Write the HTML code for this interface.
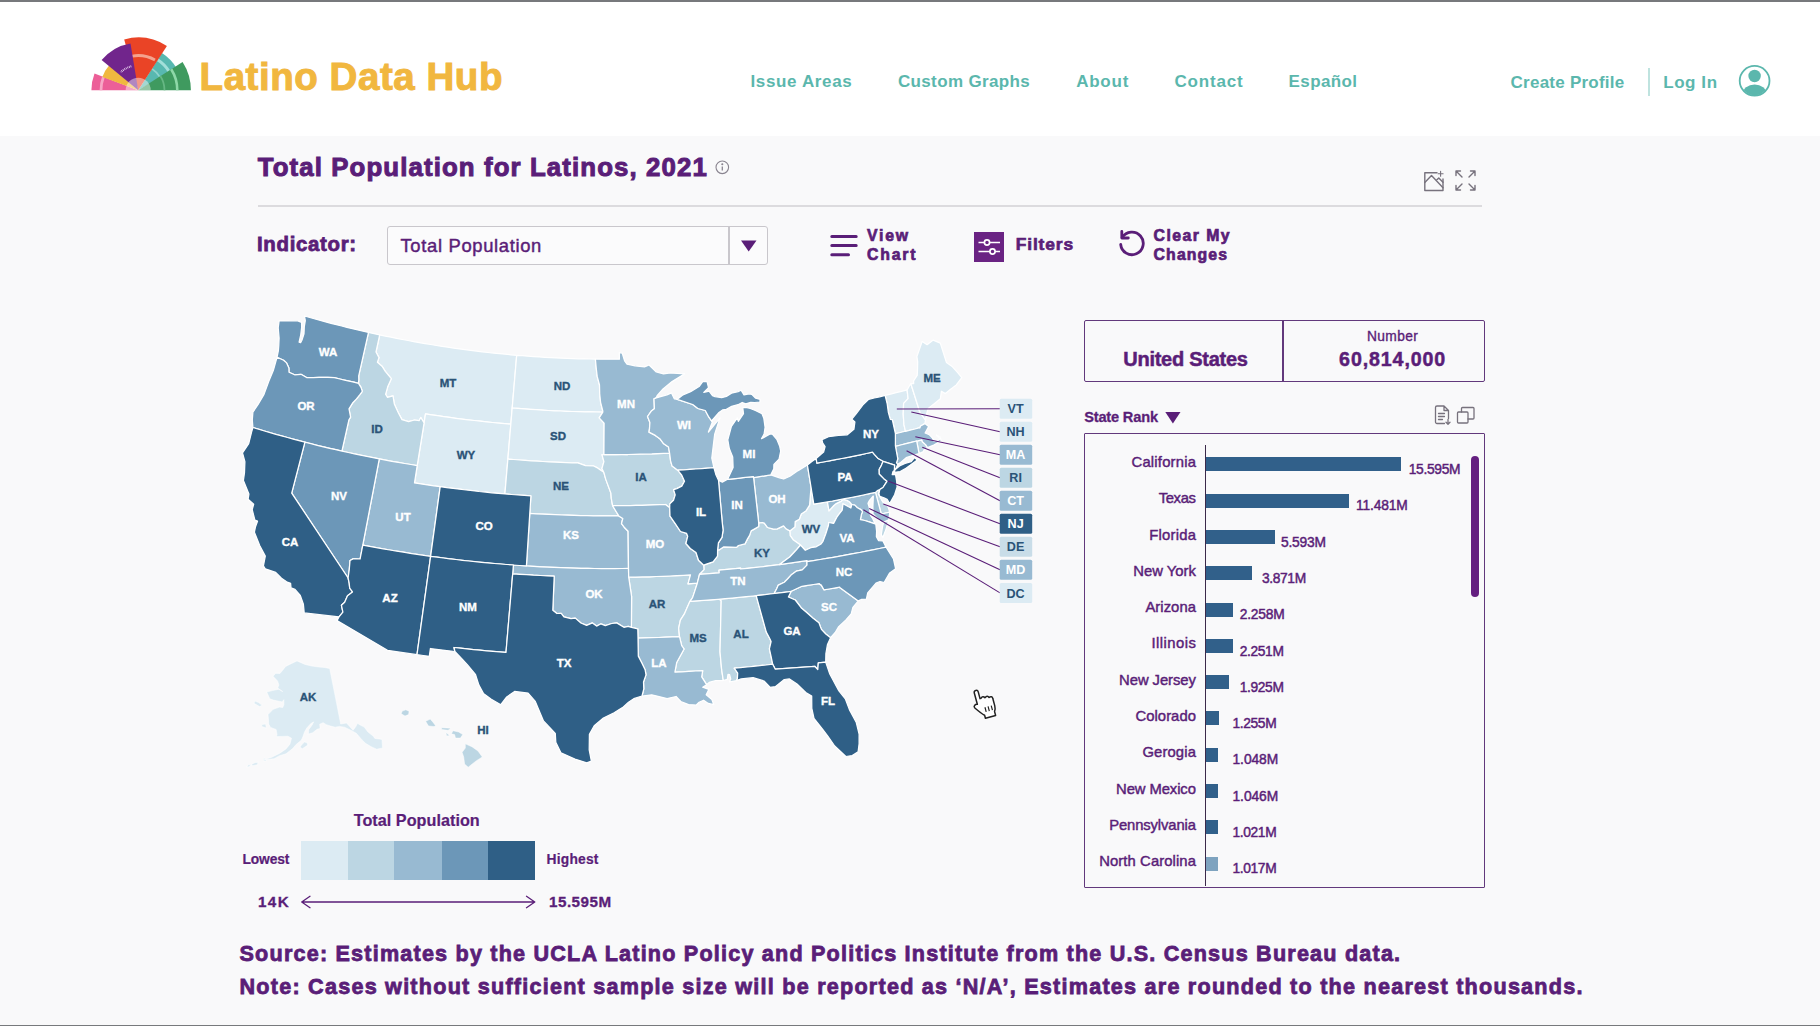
<!DOCTYPE html>
<html lang="en"><head><meta charset="utf-8"><title>Latino Data Hub</title>
<style>
*{margin:0;padding:0;box-sizing:border-box}
html,body{width:1820px;height:1026px;overflow:hidden}
body{position:relative;background:#f9f9fa;font-family:"Liberation Sans",sans-serif;color:#5a1e78}
.abs{position:absolute;display:block}
.t{position:absolute;white-space:nowrap;line-height:1;font-weight:700}
#hdr{left:0;top:0;width:1820px;height:135.5px;background:#fff}
.edge{left:0;width:1820px;height:1.5px;background:#77797c}
</style></head>
<body>
<div class="abs" id="hdr"></div>
<svg class="abs" style="left:80px;top:30px" width="125" height="65" viewBox="80 30 125 65">
<path fill="#ec5f98" d="M138.2 90.2L94.5 73.6A46.8 46.8 0 0 0 91.4 90.2Z"/>
<path fill="#f7a8c6" d="M104.7 77.5L102.1 76.5A38.6 38.6 0 0 0 99.6 90.2L102.4 90.2A35.8 35.8 0 0 1 104.7 77.5Z"/>
<path fill="#f0b840" d="M138.2 90.2L109.4 65.1A38.2 38.2 0 0 0 102.4 76.9Z"/>
<path fill="#58b8b0" d="M138.2 90.2L176.5 68.1A44.2 44.2 0 0 0 161.9 52.9Z"/>
<path fill="#a3dfd9" d="M167.9 72.4L170.4 70.8A37.6 37.6 0 0 0 158.4 58.5L156.8 61A34.6 34.6 0 0 1 167.9 72.4Z"/>
<path fill="#8fd3cd" d="M159.2 77.6L160.7 76.7A26.3 26.3 0 0 0 152.3 68L151.4 69.5A24.5 24.5 0 0 1 159.2 77.6Z"/>
<path fill="#3f9a5f" d="M138.2 90.2L190.9 90.2A52.7 52.7 0 0 0 182.6 61.9Z"/>
<path fill="#8ed8a8" d="M176 90.2L178.6 90.2A40.4 40.4 0 0 0 172.3 68.5L170.1 69.9A37.8 37.8 0 0 1 176 90.2Z"/>
<path fill="#66b784" d="M163.6 90.2L165.4 90.2A27.2 27.2 0 0 0 161.1 75.6L159.6 76.6A25.4 25.4 0 0 1 163.6 90.2Z"/>
<path fill="#ea4426" d="M138.2 90.2L166.9 46A52.7 52.7 0 0 0 124.2 39.4Z"/>
<path fill="#f4a38e" d="M154.3 61.2L155.7 58.7A36 36 0 0 0 131.9 54.7L132.4 57.5A33.2 33.2 0 0 1 154.3 61.2Z"/>
<path fill="#71258c" d="M138.2 90.2L130.5 43.4A47.4 47.4 0 0 0 101.6 60.1Z"/>
<path fill="none" stroke="#e9d3f0" stroke-width="2" stroke-dasharray="0.8 0.9" d="M131.3 66.2A25 25 0 0 0 120.8 72.2"/>
<path fill="#fff" fill-opacity=".45" d="M138.2 90.2L150.7 90.2A12.5 12.5 0 0 0 125.7 90.2Z"/>
</svg>
<div class="abs" style="left:1648px;top:68px;width:1.5px;height:28px;background:#bfe3df"></div>
<svg class="abs" style="left:1737px;top:63px" width="36" height="36"><defs><clipPath id="av"><circle cx="17.6" cy="17.8" r="14.3"/></clipPath></defs><circle cx="17.6" cy="17.8" r="14.9" fill="#fff" stroke="#5bb7ad" stroke-width="1.8"/><g fill="#5bb7ad" clip-path="url(#av)"><circle cx="17.6" cy="13" r="6.2"/><ellipse cx="17.6" cy="31.3" rx="12" ry="9.8"/></g></svg>
<svg class="abs" style="left:714px;top:159px" width="17" height="17" fill="none" stroke="#8a8590" stroke-width="1.1"><circle cx="8.3" cy="8.3" r="6.3"/><path d="M8.3 7.5v4" stroke-width="1.3"/><circle cx="8.3" cy="5.3" r=".5" fill="#8a8590"/></svg>
<svg class="abs" style="left:1422px;top:167px" width="58" height="27" fill="none" stroke="#77727d" stroke-width="1.4" stroke-linejoin="round" stroke-linecap="round"><path d="M15 5.8H2.8V23.5H21V12"/><path d="M2.8 15.5l6.7-7 4.7 5 2.6-2.6 4.2 4.4M13.5 12.8l7.5 8"/><path d="M18.6 4.2v5M16.1 6.7h5" stroke-width="1.1"/><path d="M40 10l-6-6M34 8.5V4h4.5M47 10l6-6M48.5 4H53v4.5M40 17l-6 6M34 18.5V23h4.5M47 17l6 6M53 18.5V23h-4.5" stroke-width="1.4"/></svg>
<div class="abs" style="left:258px;top:205px;width:1224px;height:1.5px;background:#dcdbde"></div>
<div class="abs" style="left:386.5px;top:226px;width:381.5px;height:38.5px;border:1.3px solid #c9c7cc;border-radius:3px;background:#fbfbfc"></div>
<div class="abs" style="left:728.3px;top:226px;width:1.3px;height:38.5px;background:#c9c7cc"></div>
<svg class="abs" style="left:740px;top:239px" width="18" height="14"><path fill="#5a1e78" d="M1 1.4H16.5L8.7 12.4Z"/></svg>
<svg class="abs" style="left:829px;top:233px" width="30" height="24" stroke="#5a1e78" stroke-width="3" stroke-linecap="round"><path d="M2.8 3.5H27.2M2.8 12.6H27.2M2.8 21.7H19.5"/></svg>
<svg class="abs" style="left:973.8px;top:231.5px" width="30.4" height="30.4"><rect width="30.4" height="30.4" fill="#6a2383"/><g stroke="#fff" stroke-width="1.7" fill="#6a2383"><path d="M4.5 10.5H26M4.5 19.5H26"/><circle cx="13" cy="10.5" r="2.6"/><circle cx="18.5" cy="19.5" r="2.6"/></g></svg>
<svg class="abs" style="left:1116px;top:228px" width="32" height="32" fill="none" stroke="#5a1e78" stroke-width="2.8" stroke-linecap="round" stroke-linejoin="round"><path d="M6.3 9.5A11.3 11.3 0 1 1 4.7 16.5"/><path d="M5.8 3.5v6.5h6.5"/></svg>
<svg class="abs" style="left:0;top:290px" width="1070" height="500" viewBox="0 290 1070 500">
<g stroke="#fff" stroke-width="1.25" stroke-linejoin="round">
<path fill="#dcebf3" d="M379.7,334.9L385.3,336.1L391,337.2L396.6,338.4L402.3,339.5L408,340.5L413.7,341.6L419.3,342.6L425,343.6L430.7,344.5L436.4,345.5L442.1,346.4L447.8,347.2L453.6,348.1L459.3,348.9L465,349.6L470.7,350.4L476.5,351.1L482.2,351.8L487.9,352.5L493.7,353.1L499.4,353.7L505.2,354.2L510.9,354.8L516.7,355.3L510.8,424.2L504.7,423.7L498.6,423.1L492.5,422.5L486.4,421.9L480.3,421.2L474.2,420.5L468.1,419.8L462,419.1L455.9,418.3L449.8,417.4L443.7,416.6L437.6,415.7L431.6,414.8L425.5,413.8L424.1,422.8L420.8,417.5L419.1,420.7L414.5,420L408.6,421.6L402,419.6L398.3,412.7L394.3,404L393,395.8L387.4,397.3L385.6,394.3L387.7,386.8L391.3,378.7L385.3,371.3L382,366.2L377.4,362.2L379,357.6L376,352L379.7,334.9Z"/>
<path fill="#dcebf3" d="M425.5,413.8L431.6,414.8L437.6,415.7L443.7,416.6L449.8,417.4L455.9,418.3L462,419.1L468.1,419.8L474.2,420.5L480.3,421.2L486.4,421.9L492.5,422.5L498.6,423.1L504.7,423.7L510.8,424.2L504.9,493.9L498.4,493.4L491.9,492.8L485.5,492.1L479,491.5L472.5,490.7L466.1,490L459.6,489.2L453.1,488.4L446.7,487.6L440.2,486.7L433.8,485.8L427.3,484.9L420.9,483.9L414.5,482.9Z"/>
<path fill="#dcebf3" d="M516.7,355.3L522.3,355.7L527.9,356.2L533.5,356.6L539.1,356.9L544.7,357.3L550.4,357.6L556,357.9L561.6,358.2L567.2,358.4L572.9,358.6L578.5,358.8L584.1,358.9L589.7,359L595.4,359.1L596.2,367.7L597.2,376.4L599.5,385L599.7,393.7L600.6,402.3L602.8,411L602.8,412.1L596.7,412L590.7,411.9L584.6,411.8L578.6,411.7L572.6,411.5L566.5,411.3L560.5,411L554.4,410.8L548.4,410.5L542.4,410.1L536.3,409.7L530.3,409.3L524.3,408.9L518.2,408.4L512.2,408Z"/>
<path fill="#dcebf3" d="M512.2,408L518.2,408.4L524.3,408.9L530.3,409.3L536.3,409.7L542.4,410.1L548.4,410.5L554.4,410.8L560.5,411L566.5,411.3L572.6,411.5L578.6,411.7L584.6,411.8L590.7,411.9L596.7,412L602.8,412.1L599.2,417.9L604.1,423.2L603.9,454.6L602,454.6L603.9,461.6L601.9,468.6L603.8,472.2L600.7,470.3L596.9,467.6L593.1,465.8L585.5,465.7L577.9,462.9L572.1,462.8L566.3,462.6L560.4,462.3L554.6,462.1L548.7,461.8L542.9,461.5L537,461.1L531.2,460.8L525.4,460.4L519.5,460L513.7,459.5L507.9,459Z"/>
<path fill="#dcebf3" d="M811.2,488.2L813.8,504.1L818.3,503.4L822.9,502.6L827.4,501.8L829,510.8L833.9,505.5L836.2,503.6L841.2,501.1L843.5,499.3L847.1,500.4L849.4,501.7L851.7,504.5L850.9,508L843,503.8L842.2,510.2L838.1,515.4L836.7,517.5L833.6,523.4L828.7,522.5L828.5,525.2L825.8,533.7L823,541.3L820.7,544.3L816.2,546.8L810.8,547.7L805.3,550.3L800.5,545L793.1,539.7L790.2,535.6L789.8,530.9L794.9,527L795.2,521.6L799.3,519.2L801.3,514.1L805.8,511.1L809.6,505.2L810.1,498.9L810.6,492.6Z"/>
<path fill="#dcebf3" d="M885.1,395.4L890.6,394.1L896.1,392.7L901.6,391.3L907.1,389.9L908.1,398.6L903.6,403.4L903.2,414.3L904,424.9L905.5,431.4L900.5,432.6L895.5,433.9L895.4,433.5L892.3,419.7L890.3,419.3L888.4,412.6L887.2,403.9L885.1,395.4Z"/>
<path fill="#dcebf3" d="M907.1,389.9L910.8,383.5L915,396.8L919.9,412.3L925.5,419.8L924.9,423.6L920.6,426L919.8,428L919.7,427.7L915,429L910.2,430.2L905.5,431.4L904,424.9L903.2,414.3L903.6,403.4L908.1,398.6L907.1,389.9Z"/>
<path fill="#dcebf3" d="M910.8,383.5L913.7,383.6L913.6,380.9L917.2,375.4L917.5,369.9L917.7,361.8L916.9,356.6L922.2,341.4L927.1,344.7L933.2,340.1L940.3,343.1L946.4,362.4L951.8,366.2L957.7,372.6L961.8,377.7L956.3,384.9L950.6,389.3L945.4,393.6L941.4,391.2L940.4,398.7L933.6,404.3L928.2,408.5L926.2,415.4L925.5,419.8L919.9,412.3L915,396.8L910.8,383.5Z"/>
<path fill="#dcebf3" stroke-width="0.5" d="M862.5,511.6L860.9,509.6L861.7,508.2L863.7,509.6Z"/>
<path fill="#dcebf3" stroke-width="0.5" d="M382.6,747.9L376.8,749.3L371.1,746.7L365.5,743.3L362,739.9L358.5,735.8L356.2,733.2L350.8,730.2L344.5,727.2L339.6,726.4L335.1,727.2L330.4,726L326.3,724.7L323.1,722.7L319.7,724.2L320.1,728.5L317.1,729.3L312.7,732.7L308.4,734.1L308.6,729.8L312.3,724.7L313.6,721.9L310.8,723.6L306.8,728L304.4,732.3L303.2,736L301.3,740.3L296.1,744.5L292.7,748.6L286,753.8L279.6,755.7L274.1,758.7L264,759.8L267,758.7L271.8,757.2L279.9,753.2L286,748.9L289.9,744.2L291.5,738.2L287.9,736.2L283.1,736.4L276.4,736.6L277,734.5L276.1,729.5L270.5,727.4L268.7,724L268.5,719.7L268,714.6L273.1,709.3L279.5,707.1L282.7,707.5L283.9,704.6L283.8,699.7L282.3,701.9L273.3,700.1L269.8,698.8L266.7,692L272.3,690.6L278.8,689.2L282.7,691.6L277.7,688.1L278.9,685L277.6,681.1L273.1,676.3L275.5,673.4L280,673.5L285.7,666.4L290.7,663.9L297,660.9L305,664.4L311.3,665.9L318.7,667L324.1,667.4L329.7,668.5L335.2,696.1L340.7,724L346.5,723L353.1,730.2L355.5,727.1L357.6,723.3L359.6,724.7L364.3,727.1L367.7,731.7L373.4,736.3L374.8,738.4L381.2,739.3L382,740.3ZM307.1,742.7L307.8,745.1L302.3,748.8L300,747L302.3,744L304.5,742.1ZM265,758.1L266.7,760.8L263.8,761L263.4,759ZM258.1,762.4L257.3,764.8L252.7,765.7L251.5,764.2L255.5,762.5ZM251.4,764.8L248.7,766.7L246.8,766.9L248.4,764.8ZM254.9,701L258.6,702.6L262.2,705.3L259.6,706.6L254,703.3ZM265.6,724.1L266.4,728L261.8,726.5L261.8,724.6Z"/>
<path fill="#bcd6e3" d="M368.5,332.4L374.1,333.7L379.7,334.9L376,352L379,357.6L377.4,362.2L382,366.2L385.3,371.3L391.3,378.7L387.7,386.8L385.6,394.3L387.4,397.3L393,395.8L394.3,404L398.3,412.7L402,419.6L408.6,421.6L414.5,420L419.1,420.7L420.8,417.5L424.1,422.8L417.2,465.6L410.9,464.6L404.6,463.5L398.3,462.4L392,461.3L385.7,460.1L379.5,458.9L373.2,457.7L366.9,456.5L360.7,455.2L354.4,453.8L348.1,452.5L341.9,451.1L348.9,419.9L350.6,417.2L349.7,412.5L349,408.8L352.4,403.3L356.5,398.9L360.1,394.3L362.3,391.3L361,387.4L358.5,383.3L358.8,379.8L358.7,375.9L368.5,332.4Z"/>
<path fill="#bcd6e3" d="M507.9,459L513.7,459.5L519.5,460L525.4,460.4L531.2,460.8L537,461.1L542.9,461.5L548.7,461.8L554.6,462.1L560.4,462.3L566.3,462.6L572.1,462.8L577.9,462.9L585.5,465.7L593.1,465.8L596.9,467.6L600.7,470.3L603.8,472.2L605.7,479.1L608.3,486.1L610.9,493.1L611.3,498.4L612.6,505.7L616.1,511.5L618.8,515.9L612.4,515.9L606.1,515.9L599.7,515.9L593.3,515.8L587,515.7L580.6,515.6L574.3,515.4L567.9,515.2L561.5,515L555.2,514.7L548.8,514.4L542.5,514.1L536.1,513.8L529.8,513.4L530.9,495.9L524.4,495.4L517.9,495L511.4,494.5L504.9,493.9Z"/>
<path fill="#bcd6e3" d="M603.9,454.6L609.9,454.6L615.9,454.6L621.8,454.5L627.8,454.5L633.8,454.3L639.7,454.2L645.7,454L651.7,453.9L657.6,453.6L663.6,453.4L669.6,453.1L670.6,460.9L672.1,466.1L677.7,470.2L681.8,475.2L684.5,481.2L681.8,486.1L676.8,488.6L673.6,489.7L675.2,494.9L673.5,500.2L669.8,503.9L669.7,507.8L665.5,504.5L659.6,504.7L653.7,504.9L647.8,505.1L642,505.3L636.1,505.4L630.2,505.6L624.3,505.6L618.5,505.7L612.6,505.7L611.3,498.4L610.9,493.1L608.3,486.1L605.7,479.1L603.8,472.2L601.9,468.6L603.9,461.6L602,454.6L603.9,454.6Z"/>
<path fill="#bcd6e3" d="M628.7,577.2L635.5,577.1L642.4,576.9L649.3,576.8L656.2,576.5L663,576.3L669.9,576L676.8,575.6L683.7,575.3L690.5,574.9L688,583.8L697.3,583.2L695,590.4L692.6,597.6L690,601.3L687.5,606.7L684.4,613.9L680.4,620.2L678.7,628.2L679.5,636.6L672.6,636.9L665.7,637.2L658.7,637.5L651.8,637.7L644.9,637.9L638,638.1L637.8,628.8L631.4,627.3L631.6,596.5L628.7,577.2Z"/>
<path fill="#bcd6e3" d="M690,601.3L695.9,600.9L701.9,600.5L707.8,600.1L713.7,599.6L719.6,599.2L721.2,600.8L720,651.8L721.6,669.2L723.3,680.5L715.8,680.5L709.2,682.4L706.6,684.7L701.7,676.8L702.7,670.6L695.7,671L688.8,671.4L681.9,671.8L674.9,672.2L676.7,662.5L680.1,656.2L684.1,649L681.7,645.6L679.5,636.6L678.7,628.2L680.4,620.2L684.4,613.9L687.5,606.7L690,601.3Z"/>
<path fill="#bcd6e3" d="M719.6,599.2L725.7,598.6L731.8,598.1L737.9,597.5L744,596.9L750.1,596.3L756.2,595.7L766.3,632.1L769.6,638.2L771.1,641.6L769.4,648.8L770.9,655.6L772.7,664.2L766.3,665L759.9,665.6L753.5,666.3L747.1,667L740.6,667.6L734.2,668.2L737.7,673.1L737.4,678.4L736.5,680.6L729.4,682L730.7,679L729.6,674.7L728,674.3L727.3,679.3L723.3,680.5L721.6,669.2L720,651.8L721.2,600.8L719.6,599.2Z"/>
<path fill="#bcd6e3" d="M789.8,530.9L789.8,530.9L790.2,535.6L793.1,539.7L800.5,545L796,550.3L789.7,557L779.5,564.6L773,565.4L766.6,566.2L760.1,567L753.7,567.7L747.2,568.4L740.7,569L740.6,568.2L735.2,568.7L729.8,569.2L724.4,569.7L719,570.2L719.2,572.8L712.7,573.3L706.1,573.8L699.5,574.3L704,569.6L703.7,565.2L706.4,564.1L713.1,561.8L717.5,556.2L717.6,550L719,549.9L723.5,546.9L731,547.1L736.5,547.4L738.4,545.5L745,543.9L747.5,538.9L749.6,535.4L751.1,530.9L754.3,529.1L758.7,526.5L758.7,522.9L762.3,522.5L764.3,523.1L767.6,527.5L773.5,529.1L777.3,528.9L783.6,525.9L786.1,528.8Z"/>
<path fill="#bcd6e3" d="M875.5,492.4L877.3,490.6L879.8,489.5L878.3,494L880.5,498L882.8,502L887.8,506.2L889.8,512.1L881.3,514L875.5,492.4Z"/>
<path fill="#bcd6e3" d="M888.8,519.9L886,529.1L882.9,537.5L881.3,534.6L882.6,526.3L883.7,522.1Z"/>
<path fill="#bcd6e3" d="M916.7,441.2L921.9,439.8L922.4,441.8L925.6,444.6L927.5,447.7L924.2,449.5L923.4,451.6L919.1,453.6Z"/>
<path fill="#bcd6e3" stroke-width="0.5" d="M465.3,743.8L471.9,746.7L478,751L482.3,757L476.1,760.9L468.2,767.2L464.6,764.1L463.7,757.1L462.1,752.3L465.3,748.1ZM453,730.7L458.7,732L462.8,734.6L460.4,738.1L455.5,738.1L454.6,734.6L451.4,733.8ZM430.2,719.1L432.6,721.7L435.9,726L433.4,726.5L428.5,726L425.6,721.3ZM405.8,709.8L409.1,711.2L408.6,714.6L405,716L401.2,713.7L402.2,711.1ZM441.6,727.7L451,728.2L448.1,730.3L441.6,729.5ZM445.7,732.6L449.7,735.5L446.8,735.9Z"/>
<path fill="#98bad2" d="M379.3,458.9L385.6,460.1L391.9,461.3L398.3,462.4L404.6,463.5L410.9,464.5L417.2,465.6L414.5,482.9L420.9,483.9L427.3,484.9L433.8,485.8L440.2,486.7L430.6,556.3L423.8,555.3L417,554.3L410.2,553.3L403.4,552.2L396.6,551.1L389.8,550L383.1,548.8L376.3,547.6L369.5,546.4L362.8,545.1Z"/>
<path fill="#98bad2" d="M529.8,513.4L536.1,513.8L542.5,514.1L548.8,514.4L555.2,514.7L561.5,515L567.9,515.2L574.3,515.4L580.6,515.6L587,515.7L593.3,515.8L599.7,515.9L606.1,515.9L612.4,515.9L618.8,515.9L622.8,518.5L621.5,523.7L624.2,527.2L628.1,531.2L628.5,568.4L621.7,568.5L614.9,568.6L608.1,568.6L601.3,568.6L594.5,568.5L587.7,568.4L580.9,568.3L574,568.1L567.2,567.9L560.4,567.7L553.6,567.4L546.8,567.1L540,566.7L533.2,566.3L526.4,565.9Z"/>
<path fill="#98bad2" d="M513.4,565L520.1,565.5L526.9,566L533.7,566.4L540.4,566.8L547.2,567.1L554,567.4L560.8,567.7L567.5,567.9L574.3,568.1L581.1,568.3L587.9,568.4L594.6,568.5L601.4,568.6L608.2,568.6L615,568.6L621.8,568.5L628.5,568.4L628.7,577.2L631.6,596.5L631.4,627.3L628.2,626.3L623.9,627.3L616.7,622.9L611.7,623.5L605.3,625.6L601,623.8L596.6,626.1L592.4,622.9L586.6,625.4L580.9,623L575.3,618.1L571,618.6L563.9,616.9L561.2,613.3L556.9,613.5L552.8,610.2L554.2,576.2L547.3,575.9L540.4,575.5L533.4,575.2L526.5,574.7L519.6,574.3L512.7,573.8Z"/>
<path fill="#98bad2" d="M595.4,359.1L600.2,359.2L605,359.2L609.8,359.2L614.6,359.2L619.4,359.2L619.3,352.6L622.2,353.1L624.6,360.8L627,364.2L635.1,365.8L644.5,366.9L649.1,365L656.3,372L663.5,373.9L670.5,373L684.6,373.9L672.1,381.6L663,389L657.3,395.3L656.2,397.9L654,398.9L654.4,408.8L651.3,411.1L647.5,416.5L649.9,422.5L649.5,428.6L649,432.1L655.3,435.4L659.8,438.7L663.7,443.8L668.5,447L669.6,453.1L663.6,453.4L657.6,453.6L651.7,453.9L645.7,454L639.7,454.2L633.8,454.3L627.8,454.5L621.8,454.5L615.9,454.6L609.9,454.6L603.9,454.6L604.1,423.2L599.2,417.9L602.8,412.1L602.8,411L600.6,402.3L599.7,393.7L599.5,385L597.2,376.4L596.2,367.7L595.4,359.1Z"/>
<path fill="#98bad2" d="M612.6,505.7L618.5,505.7L624.3,505.6L630.2,505.6L636.1,505.4L642,505.3L647.8,505.1L653.7,504.9L659.6,504.7L665.5,504.5L669.7,507.8L670,516.2L675.4,523.8L680.5,531.5L686.6,533.4L687.7,536.3L685.9,543.5L690.3,548.5L696,552.5L698.5,560.3L703.7,565.2L704,569.6L699.5,574.3L698.4,578.8L697.3,583.2L688,583.8L690.5,574.9L683.7,575.3L676.8,575.6L669.9,576L663,576.3L656.2,576.5L649.3,576.8L642.4,576.9L635.5,577.1L628.7,577.2L628.5,568.4L628.1,531.2L624.2,527.2L621.5,523.7L622.8,518.5L618.8,515.9L616.1,511.5L612.6,505.7Z"/>
<path fill="#98bad2" d="M638,638.1L644.9,637.9L651.8,637.7L658.7,637.5L665.7,637.2L672.6,636.9L679.5,636.6L681.7,645.6L684.1,649L680.1,656.2L676.7,662.5L674.9,672.2L681.9,671.8L688.8,671.4L695.7,671L702.7,670.6L701.7,676.8L706.6,684.7L702.7,687.2L708.9,689.4L706.2,694.8L711.9,699.6L713.8,704.7L708.3,703.4L703.6,700.2L699.1,702.2L696.3,705L688.6,704.6L680.8,701.5L676.1,696.5L667.1,698.6L661,697.1L651.8,694.8L642,696L643.8,688.9L643.5,682L646,674.9L645.1,669.7L641.7,662.8L638.3,656.1L638,638.1Z"/>
<path fill="#98bad2" d="M699.5,574.3L706.1,573.8L712.7,573.3L719.2,572.8L719,570.2L724.4,569.7L729.8,569.2L735.2,568.7L740.6,568.2L740.7,569L747.2,568.4L753.7,567.7L760.1,567L766.6,566.2L773,565.4L779.5,564.6L786.3,563.7L793.2,562.7L800,561.7L806.9,560.7L807,565.1L802.3,569.9L796.2,571.2L791.7,574.4L788,578.5L784.3,582.2L778.3,585.1L776.7,588.8L774.1,593.6L767.1,594.4L760.1,595.2L753.1,596L746.1,596.7L739.1,597.4L732.1,598.1L725.1,598.7L718.1,599.3L711.1,599.8L704.1,600.3L697.1,600.8L690,601.3L692.6,597.6L695,590.4L697.3,583.2L698.4,578.8L699.5,574.3Z"/>
<path fill="#98bad2" d="M753.6,477.6L770.8,474.9L779.6,477.8L783.7,479L789.9,476.3L798.1,470.6L807.4,465L811.2,488.2L810.6,492.6L810.1,498.9L809.6,505.2L805.8,511.1L801.3,514.1L799.3,519.2L795.2,521.6L794.9,527L789.8,530.9L786.1,528.8L783.6,525.9L777.3,528.9L773.5,529.1L767.6,527.5L764.3,523.1L762.3,522.5L758.7,522.9L753.6,477.6Z"/>
<path fill="#98bad2" d="M656.2,397.9L666.9,394.8L671.5,392.9L674.3,398.8L676.5,399.2L692.7,404.5L697.9,408.5L705.3,410.5L708.9,417.2L712.4,422.1L708.4,432.1L720,417.9L717.6,425.2L714.7,434.2L713.3,445.7L711.8,458.1L713.9,467.6L707.9,468.1L701.8,468.6L695.8,469L689.8,469.4L683.7,469.8L677.7,470.2L672.1,466.1L670.6,460.9L669.6,453.1L668.5,447L663.7,443.8L659.8,438.7L655.3,435.4L649,432.1L649.5,428.6L649.9,422.5L647.5,416.5L651.3,411.1L654.4,408.8L654,398.9L656.2,397.9Z"/>
<path fill="#98bad2" d="M827.4,501.8L833.4,500.8L839.5,499.7L845.5,498.5L851.5,497.4L857.5,496.2L863.5,494.9L869.5,493.7L875.5,492.4L881.3,514L889.8,512.1L888.8,519.9L883.7,522.1L881,522.1L877.4,518.4L873,514L872.9,506.8L873.1,501.4L873.3,496L869.5,500.4L868,503.3L869.3,507.6L870.5,515.4L872.6,518.5L874.5,522.6L875.8,524.1L869.1,521.9L864.7,520.5L860.4,519.6L861.4,514.5L862.5,511.6L860.9,509.6L857.4,507.8L854.8,505.1L851.7,504.5L849.4,501.7L847.1,500.4L843.5,499.3L841.2,501.1L836.2,503.6L833.9,505.5L829,510.8L827.4,501.8Z"/>
<path fill="#98bad2" d="M791.2,591.3L801.9,586.3L807.8,585.4L813.6,584.5L819.4,583.6L819.5,584.1L821.3,585.1L823.9,589.8L829.1,589L834.4,588.1L839.7,587.2L839.7,587.4L858.3,600.9L852.9,607.3L851.2,613.8L845.7,620.1L838.7,626.6L835.2,632.5L830.6,637.7L825.8,634L821.4,629.4L818.9,622.7L813.1,618.3L808.1,613.7L801.1,607.7L795.3,600L788.4,597L791.2,591.3Z"/>
<path fill="#98bad2" d="M895.4,433.7L900.4,432.5L905.4,431.2L905.5,431.4L910.2,430.2L915,429L919.7,427.7L919.8,428L920.6,426L924.9,423.6L928.6,426.6L925.1,433L929.2,434.6L932.5,438.2L933.9,441.1L937.8,440.4L940,438.9L936.3,435L940.1,437L941.2,440.9L933.7,445.1L927.5,447.7L925.6,444.6L922.4,441.8L921.9,439.8L916.7,441.2L916.6,441L911.3,442.4L906.1,443.7L900.8,445L895.5,446.3L895.4,446L895.4,433.5Z"/>
<path fill="#98bad2" d="M895.5,446.3L900.8,445L906.1,443.7L911.3,442.4L916.6,441L916.7,441.2L919.1,453.6L917.3,454L906.2,457.7L900.1,462.9L897.8,464.3L896.5,462.8L897.8,458.9L895.4,446Z"/>
<path fill="#6c97b8" d="M304.5,316L304.5,316L309.8,317.5L315.1,319L320.4,320.4L325.7,321.9L331,323.3L336.4,324.7L341.7,326L347,327.4L352.4,328.7L357.8,329.9L363.1,331.2L368.5,332.4L358.7,375.9L358.8,379.8L358.5,383.3L353.9,382.2L349.2,381.2L344.5,380.1L339.9,379L334.3,377.6L327.8,377.4L319.1,377.3L313.4,377.6L307,377.7L301,374.3L294.6,374.8L289,372.3L288.9,368.1L286.6,362.9L283.6,360.3L277,357.3L278.4,350.5L278.8,345.2L279.1,338.1L278.2,327.9L279.1,320.9L288,321L297.8,320.8L301.6,322.3L301.6,327.7L300.8,334.6L299.1,342.2L300.6,342.6L301.9,340.3L304,333.7L304.3,326.7L305.3,320.7Z"/>
<path fill="#6c97b8" d="M277,357.3L277,357.3L283.6,360.3L286.6,362.9L288.9,368.1L289,372.3L294.6,374.8L301,374.3L307,377.7L313.4,377.6L319.1,377.3L327.8,377.4L334.3,377.6L339.9,379L344.5,380.1L349.2,381.2L353.9,382.2L358.5,383.3L361,387.4L362.3,391.3L360.1,394.3L356.5,398.9L352.4,403.3L349,408.8L349.7,412.5L350.6,417.2L348.9,419.9L341.9,451.1L335.9,449.7L329.9,448.3L324,446.9L318,445.5L312,444L306.1,442.5L300.1,440.9L294.2,439.4L288.3,437.8L282.3,436.1L276.4,434.5L270.5,432.8L264.6,431L258.7,429.3L252.9,427.5L252.3,420L252.9,412.1L258.1,404.4L264,394.4L268.8,381.2L273.5,369.9Z"/>
<path fill="#6c97b8" d="M304.9,442.2L311,443.7L317.2,445.3L323.4,446.8L329.6,448.3L335.8,449.7L342,451.1L348.2,452.5L354.4,453.8L360.6,455.2L366.9,456.4L373.1,457.7L379.3,458.9L360.1,559L355.6,558.9L353,558.9L350,560.5L349.3,569.3L348.1,578L291.7,493.1L304.9,442.2Z"/>
<path fill="#6c97b8" d="M718.5,480.2L722.3,482.1L727.6,479.3L732.8,478.8L737.9,478.3L743.1,477.7L748.3,477.2L753.4,476.6L753.6,477.6L758.7,522.9L758.7,526.5L754.3,529.1L751.1,530.9L749.6,535.4L747.5,538.9L745,543.9L738.4,545.5L736.5,547.4L731,547.1L723.5,546.9L719,549.9L717.6,550L718.4,542.9L722,537.3L723.1,530.1L722.2,522.3L718.5,480.2Z"/>
<path fill="#6c97b8" d="M727.6,479.3L727.6,479.3L733.1,467.5L732.7,457L729.3,448.6L727.8,439.9L731.4,426.4L737.3,417.9L738.3,421.3L743.5,413.7L742.8,407.7L745.9,407.3L750.3,408.5L755.4,410.5L762,413.7L763.8,418.2L765.1,427.3L764.1,434L761.5,438.7L769.7,434.1L772.3,434.1L776.8,439.3L779.6,445.9L780.7,451.1L779,459.3L773.9,464.4L773.8,468.8L770.8,474.9L753.6,477.6L753.4,476.6L748.3,477.2L743.1,477.7L737.9,478.3L732.8,478.8ZM712.4,422.1L712.4,422.1L708.9,417.2L705.3,410.5L697.9,408.5L692.7,404.5L676.5,399.2L678.7,398.2L683,394.8L690.6,391.7L699.1,386.5L702.7,381.7L707,381.3L708.5,387.6L703.8,392.4L709.1,391.1L712.5,395.6L715,396.6L721.7,397.7L726.4,396.4L731.5,393.2L738.1,391.6L741.1,390.2L744,394.8L749.1,393.8L751.8,394.3L755.7,398.2L760.1,399.4L759.9,402L754.7,402.5L750.8,402.3L745.8,403.8L742.2,402.5L738,404.7L731.7,406.3L726.4,409.4L722.9,409.8L718.6,412.8L711.8,420.6Z"/>
<path fill="#6c97b8" d="M851.7,504.5L851.7,504.5L854.8,505.1L857.4,507.8L860.9,509.6L862.5,511.6L861.4,514.5L860.4,519.6L864.7,520.5L869.1,521.9L875.8,524.1L876.6,531.1L876.4,536.6L878.6,540.6L882.9,540.9L886.1,547.1L879.5,548.5L872.9,549.8L866.4,551.2L859.8,552.5L853.2,553.7L846.6,554.9L840,556.1L833.4,557.3L826.8,558.4L820.2,559.5L813.6,560.6L807,561.6L806.9,560.7L800,561.7L793.2,562.7L786.3,563.7L779.5,564.6L789.7,557L796,550.3L800.5,545L805.3,550.3L810.8,547.7L816.2,546.8L820.7,544.3L823,541.3L825.8,533.7L828.5,525.2L828.7,522.5L833.6,523.4L836.7,517.5L838.1,515.4L842.2,510.2L843,503.8L850.9,508Z"/>
<path fill="#6c97b8" d="M807,561.6L813.6,560.6L820.2,559.5L826.8,558.4L833.4,557.3L840,556.1L846.6,554.9L853.2,553.7L859.8,552.5L866.4,551.2L872.9,549.8L879.5,548.5L886.1,547.1L893.5,559L895.6,568.7L889.7,572.9L884.1,582.5L880,581.5L876,583.2L867.7,592.9L866.4,599.1L861.7,599.4L858.3,600.9L839.7,587.4L839.7,587.2L834.4,588.1L829.1,589L823.9,589.8L821.3,585.1L819.5,584.1L819.4,583.6L813.6,584.5L807.8,585.4L801.9,586.3L791.2,591.3L785.5,592.1L779.8,592.8L774.1,593.6L776.7,588.8L778.3,585.1L784.3,582.2L788,578.5L791.7,574.4L796.2,571.2L802.3,569.9L807,565.1L806.9,560.7Z"/>
<path fill="#2f5f86" d="M252.9,427.5L252.9,427.5L258.6,429.2L264.4,431L270.1,432.6L275.9,434.3L281.7,435.9L287.5,437.5L293.2,439.1L299,440.6L304.9,442.2L291.7,493.1L348.1,578L349.2,583.2L349.7,588.1L352.5,591.9L347.5,595.7L344.7,602.3L341.4,605.2L342.9,612.1L339,616.9L304.2,612.9L303.4,604.3L300.3,595.5L295,589.4L291,587.9L290.6,583.3L286.6,581.8L281.5,578.3L275.7,572.4L265.3,568.8L263.4,565.9L265.3,556.1L259.7,545.5L254.4,532.2L255.5,526.7L257.5,521.2L254.9,520.1L252.2,509.6L253.7,504.2L248.1,499.3L248.9,494.1L243.4,480.5L244.5,472.6L244.9,461.7L242.5,452.9L248.7,443.7L251.7,431.7Z"/>
<path fill="#2f5f86" d="M440.2,486.7L446.7,487.6L453.1,488.4L459.6,489.2L466.1,490L472.5,490.7L479,491.5L485.5,492.1L491.9,492.8L498.4,493.4L504.9,493.9L511.4,494.5L517.9,495L524.4,495.4L530.9,495.9L526.4,565.9L519.5,565.5L512.7,565L505.8,564.5L499,563.9L492.1,563.3L485.3,562.7L478.4,562L471.6,561.3L464.7,560.5L457.9,559.8L451.1,558.9L444.3,558.1L437.4,557.2L430.6,556.3Z"/>
<path fill="#2f5f86" d="M362.8,545.1L369.5,546.4L376.3,547.6L383.1,548.8L389.8,550L396.6,551.1L403.4,552.2L410.2,553.3L417,554.3L423.8,555.3L430.6,556.3L417,654.7L403.1,652.7L387.5,650.3L337,620.6L339,616.9L342.9,612.1L341.4,605.2L344.7,602.3L347.5,595.7L352.5,591.9L349.7,588.1L349.2,583.2L348.1,578L349.3,569.3L350,560.5L353,558.9L355.6,558.9L360.1,559Z"/>
<path fill="#2f5f86" d="M430.6,556.3L437,557.1L443.3,558L449.7,558.8L456,559.5L462.4,560.3L468.7,561L475.1,561.6L481.5,562.3L487.8,562.9L494.2,563.5L500.6,564L507,564.5L513.4,565L512.7,573.8L506,652.4L499.5,651.9L493,651.3L486.5,650.8L480,650.2L473.5,649.6L467,648.9L460.5,648.2L454,647.5L454.9,651.5L448.8,650.8L442.6,650.1L436.5,649.3L430.4,648.5L429.3,656.3L423.2,655.5L417,654.7Z"/>
<path fill="#2f5f86" d="M512.7,573.8L519.6,574.3L526.5,574.7L533.4,575.2L540.4,575.5L547.3,575.9L554.2,576.2L552.8,610.2L556.9,613.5L561.2,613.3L563.9,616.9L571,618.6L575.3,618.1L580.9,623L586.6,625.4L592.4,622.9L596.6,626.1L601,623.8L605.3,625.6L611.7,623.5L616.7,622.9L623.9,627.3L628.2,626.3L631.4,627.3L637.8,628.8L638,638.1L638.3,656.1L641.7,662.8L645.1,669.7L646,674.9L643.5,682L643.8,688.9L642,696L633.8,698.7L628.5,702.3L622.5,707.6L614.1,712.8L603.4,718L594.2,725.8L589.4,734.4L589.2,749.9L591.4,761.2L586.7,762.8L574.9,759.1L560.9,752.7L555.8,742.2L555.3,733.5L543.5,720.9L535.3,701.4L528.1,693.1L514.6,691.4L506.7,697L500.8,704.7L491.3,699.3L483.4,693.4L478.9,685.1L475.4,674.3L467.3,664.7L462,658.9L454.9,651.5L454,647.5L460.5,648.2L467,648.9L473.5,649.6L480,650.2L486.5,650.8L493,651.3L499.5,651.9L506,652.4Z"/>
<path fill="#2f5f86" d="M677.7,470.2L683.7,469.8L689.8,469.4L695.8,469L701.8,468.6L707.9,468.1L713.9,467.6L715.8,474.4L718.5,480.2L722.2,522.3L723.1,530.1L722,537.3L718.4,542.9L717.6,550L717.5,556.2L713.1,561.8L706.4,564.1L703.7,565.2L698.5,560.3L696,552.5L690.3,548.5L685.9,543.5L687.7,536.3L686.6,533.4L680.5,531.5L675.4,523.8L670,516.2L669.7,507.8L669.8,503.9L673.5,500.2L675.2,494.9L673.6,489.7L676.8,488.6L681.8,486.1L684.5,481.2L681.8,475.2L677.7,470.2Z"/>
<path fill="#2f5f86" d="M807.4,465L812.2,461.2L816.1,458.4L816.9,463.1L823.1,462L829.3,460.9L835.5,459.7L841.7,458.5L847.9,457.3L854,456.1L860.2,454.8L866.3,453.5L872.5,452.2L874.3,454.4L877.8,458.2L883.1,461.3L880.9,466.4L879.2,469.2L879.3,474L881.5,476.2L883.6,478.4L887,481.3L885,484.4L883,487.5L879.8,489.5L877.3,490.6L875.5,492.4L869.4,493.7L863.2,495L857.1,496.3L850.9,497.5L844.7,498.7L838.6,499.8L832.4,501L826.2,502L820,503.1L813.8,504.1Z"/>
<path fill="#2f5f86" d="M816.1,458.4L823.6,452.1L825.1,446.5L822.6,442.9L822,439.6L828.5,436.7L838.5,435.5L847.3,434.8L853.9,429.3L854.9,422L851.8,419.1L856.3,413.6L862.7,405.1L868.7,399.3L874.2,398L879.6,396.8L885.1,395.4L887.2,403.9L888.4,412.6L890.3,419.3L892.3,419.7L895.4,433.5L895.4,446L897.8,458.9L896.5,462.8L897.8,464.3L896.5,467.3L894.3,470.5L894.6,465.1L883.1,461.3L877.8,458.2L874.3,454.4L872.5,452.2L866.3,453.5L860.2,454.8L854,456.1L847.9,457.3L841.7,458.5L835.5,459.7L829.3,460.9L823.1,462L816.9,463.1ZM894.6,472.3L894.6,470.5L896.2,468.7L900.1,465.6L905,463.5L911.2,461.6L914.5,457.5L916.8,459.6L920.1,457.9L910.1,465.3L905,468.9L900.2,471.5Z"/>
<path fill="#2f5f86" d="M883.1,461.3L894.6,465.1L894.3,470.5L892.9,471.8L892.2,474.6L895.5,474.4L896.6,480.8L897.1,487L894.6,494.8L889.7,503.5L887,499.2L884.6,498L879.8,496.3L878.9,493.8L879.8,489.5L883,487.5L885,484.4L887,481.3L883.6,478.4L881.5,476.2L879.3,474L879.2,469.2L880.9,466.4L883.1,461.3Z"/>
<path fill="#2f5f86" d="M756.2,595.7L763.2,594.9L770.2,594L777.2,593.2L784.2,592.3L791.2,591.3L788.4,597L795.3,600L801.1,607.7L808.1,613.7L813.1,618.3L818.9,622.7L821.4,629.4L825.8,634L830.6,637.7L827.5,644.4L825.9,653.5L825.7,662.1L818.3,662.9L817.8,669.5L814.7,666.3L775.3,669.2L772.7,664.2L770.9,655.6L769.4,648.8L771.1,641.6L769.6,638.2L766.3,632.1L756.2,595.7Z"/>
<path fill="#2f5f86" d="M734.2,668.2L740.6,667.6L747.1,667L753.5,666.3L759.9,665.6L766.3,665L772.7,664.2L775.3,669.2L814.7,666.3L817.8,669.5L818.3,662.9L825.7,662.1L829.8,674L838.5,690.3L845.3,698.8L849.4,709.6L856.3,722.5L859.1,734.2L859.1,743.8L858.1,751.9L852.2,755.5L845.9,756.5L834.7,746L827.6,735.8L822.7,729.5L814,718.5L811.8,708.3L811.7,696.1L805.8,692.5L797,684L789.5,678.9L784.3,679.5L775.3,686.7L770,687.3L764,681L753.1,677.7L741.2,678.9L736.5,680.6L737.4,678.4L737.7,673.1L734.2,668.2Z"/>
</g>
<g stroke="#5a1e78" stroke-width="1.1">
<line x1="896.8" y1="409" x2="1000" y2="408.7"/>
<line x1="911.3" y1="412" x2="1000" y2="431.7"/>
<line x1="915.3" y1="436.8" x2="1000" y2="454.7"/>
<line x1="922.3" y1="447.3" x2="1000" y2="477.8"/>
<line x1="906.6" y1="450.8" x2="1000" y2="500.8"/>
<line x1="887.9" y1="481" x2="1000" y2="523.8"/>
<line x1="883.3" y1="503.9" x2="1000" y2="546.8"/>
<line x1="869.2" y1="508.6" x2="1000" y2="569.8"/>
<line x1="863.4" y1="509.8" x2="1000" y2="592.9"/>
</g>
<rect x="999.7" y="398.7" width="32.5" height="20" rx="1.5" fill="#dcebf3"/>
<rect x="999.7" y="421.7" width="32.5" height="20" rx="1.5" fill="#dcebf3"/>
<rect x="999.7" y="444.7" width="32.5" height="20" rx="1.5" fill="#98bad2"/>
<rect x="999.7" y="467.8" width="32.5" height="20" rx="1.5" fill="#bcd6e3"/>
<rect x="999.7" y="490.8" width="32.5" height="20" rx="1.5" fill="#98bad2"/>
<rect x="999.7" y="513.8" width="32.5" height="20" rx="1.5" fill="#2f5f86"/>
<rect x="999.7" y="536.8" width="32.5" height="20" rx="1.5" fill="#c9dde8"/>
<rect x="999.7" y="559.8" width="32.5" height="20" rx="1.5" fill="#98bad2"/>
<rect x="999.7" y="582.9" width="32.5" height="20" rx="1.5" fill="#dcebf3"/>
<g font-family="'Liberation Sans',sans-serif" font-weight="700" font-size="11.5" text-anchor="middle">
<text x="328" y="355.8" fill="#fff" stroke="#fff" stroke-width=".35">WA</text>
<text x="306" y="409.8" fill="#fff" stroke="#fff" stroke-width=".35">OR</text>
<text x="290" y="545.8" fill="#fff" stroke="#fff" stroke-width=".35">CA</text>
<text x="339" y="499.8" fill="#fff" stroke="#fff" stroke-width=".35">NV</text>
<text x="377" y="432.8" fill="#2a5377" stroke="#2a5377" stroke-width=".35">ID</text>
<text x="448" y="386.8" fill="#2a5377" stroke="#2a5377" stroke-width=".35">MT</text>
<text x="466" y="458.8" fill="#2a5377" stroke="#2a5377" stroke-width=".35">WY</text>
<text x="403" y="520.8" fill="#fff" stroke="#fff" stroke-width=".35">UT</text>
<text x="390" y="601.8" fill="#fff" stroke="#fff" stroke-width=".35">AZ</text>
<text x="484" y="529.8" fill="#fff" stroke="#fff" stroke-width=".35">CO</text>
<text x="468" y="610.8" fill="#fff" stroke="#fff" stroke-width=".35">NM</text>
<text x="562" y="389.8" fill="#2a5377" stroke="#2a5377" stroke-width=".35">ND</text>
<text x="558" y="439.8" fill="#2a5377" stroke="#2a5377" stroke-width=".35">SD</text>
<text x="561" y="489.8" fill="#2a5377" stroke="#2a5377" stroke-width=".35">NE</text>
<text x="571" y="538.8" fill="#fff" stroke="#fff" stroke-width=".35">KS</text>
<text x="594" y="597.8" fill="#fff" stroke="#fff" stroke-width=".35">OK</text>
<text x="564" y="666.8" fill="#fff" stroke="#fff" stroke-width=".35">TX</text>
<text x="626" y="407.8" fill="#fff" stroke="#fff" stroke-width=".35">MN</text>
<text x="641" y="480.8" fill="#2a5377" stroke="#2a5377" stroke-width=".35">IA</text>
<text x="655" y="547.8" fill="#fff" stroke="#fff" stroke-width=".35">MO</text>
<text x="657" y="607.8" fill="#2a5377" stroke="#2a5377" stroke-width=".35">AR</text>
<text x="659" y="666.8" fill="#fff" stroke="#fff" stroke-width=".35">LA</text>
<text x="684" y="428.8" fill="#fff" stroke="#fff" stroke-width=".35">WI</text>
<text x="701" y="515.8" fill="#fff" stroke="#fff" stroke-width=".35">IL</text>
<text x="749" y="457.8" fill="#fff" stroke="#fff" stroke-width=".35">MI</text>
<text x="737" y="508.8" fill="#fff" stroke="#fff" stroke-width=".35">IN</text>
<text x="777" y="502.8" fill="#fff" stroke="#fff" stroke-width=".35">OH</text>
<text x="762" y="556.8" fill="#2a5377" stroke="#2a5377" stroke-width=".35">KY</text>
<text x="738" y="584.8" fill="#fff" stroke="#fff" stroke-width=".35">TN</text>
<text x="698" y="641.8" fill="#2a5377" stroke="#2a5377" stroke-width=".35">MS</text>
<text x="741" y="637.8" fill="#2a5377" stroke="#2a5377" stroke-width=".35">AL</text>
<text x="792" y="634.8" fill="#fff" stroke="#fff" stroke-width=".35">GA</text>
<text x="828" y="704.8" fill="#fff" stroke="#fff" stroke-width=".35">FL</text>
<text x="829" y="610.8" fill="#fff" stroke="#fff" stroke-width=".35">SC</text>
<text x="844" y="575.8" fill="#fff" stroke="#fff" stroke-width=".35">NC</text>
<text x="847" y="541.8" fill="#fff" stroke="#fff" stroke-width=".35">VA</text>
<text x="811" y="532.8" fill="#2a5377" stroke="#2a5377" stroke-width=".35">WV</text>
<text x="845" y="480.8" fill="#fff" stroke="#fff" stroke-width=".35">PA</text>
<text x="871" y="437.8" fill="#fff" stroke="#fff" stroke-width=".35">NY</text>
<text x="932" y="381.8" fill="#2a5377" stroke="#2a5377" stroke-width=".35">ME</text>
<text x="308" y="700.8" fill="#2a5377" stroke="#2a5377" stroke-width=".35">AK</text>
<text x="483" y="733.8" fill="#2a5377" stroke="#2a5377" stroke-width=".35">HI</text>
<text x="1015.6" y="413.3" font-size="12.6" fill="#2a5377">VT</text>
<text x="1015.6" y="436.3" font-size="12.6" fill="#2a5377">NH</text>
<text x="1015.6" y="459.3" font-size="12.6" fill="#fff">MA</text>
<text x="1015.6" y="482.4" font-size="12.6" fill="#2a5377">RI</text>
<text x="1015.6" y="505.4" font-size="12.6" fill="#fff">CT</text>
<text x="1015.6" y="528.4" font-size="12.6" fill="#fff">NJ</text>
<text x="1015.6" y="551.4" font-size="12.6" fill="#2a5377">DE</text>
<text x="1015.6" y="574.4" font-size="12.6" fill="#fff">MD</text>
<text x="1015.6" y="597.5" font-size="12.6" fill="#2a5377">DC</text>
</g>
<g transform="translate(970.2,686.8) scale(1.2) rotate(-15 12 14)" fill="#fff" stroke="#222" stroke-width="1.25" stroke-linejoin="round"><path d="M6 13V3.2a1.7 1.7 0 0 1 3.4 0V9l1-.1a1.6 1.6 0 0 1 3 .4l.6-.1a1.6 1.6 0 0 1 2.8.8l.5 0a1.6 1.6 0 0 1 2.4 1.5V18c0 2-.6 3.4-1.4 4.6V26H9.5v-2.6C7.6 21.6 5 18 3.2 15.4 2.1 13.8 4.3 12.3 6 13Z"/><path d="M11.5 17v4M14.2 17v4M16.9 17v4" fill="none" stroke-width="1"/></g>
</svg>
<div class="abs" style="left:1084px;top:320px;width:401px;height:62px;border:1.5px solid #62397c;border-radius:2px"></div>
<div class="abs" style="left:1282px;top:320px;width:1.5px;height:62px;background:#62397c"></div>
<svg class="abs" style="left:1164px;top:411px" width="18" height="14"><path fill="#5a1e78" d="M1.3 1H16.5L8.9 12.4Z"/></svg>
<svg class="abs" style="left:1433px;top:404px" width="44" height="22" fill="none" stroke="#77727d" stroke-width="1.3" stroke-linejoin="round" stroke-linecap="round"><path d="M2.5 3.5a1.5 1.5 0 0 1 1.5-1.5h7l4.5 4.5v8M11 2v4.5h4.5M11.5 19.5H4a1.5 1.5 0 0 1-1.5-1.5V3.5"/><path d="M5.5 9.5h6M5.5 12.5h6M5.5 15.5h4M15 15.5v4.5M13 18.2l2 2 2-2"/><rect x="24.5" y="8" width="10.5" height="11" rx="1"/><path d="M28.5 8V4.5a1 1 0 0 1 1-1H40a1 1 0 0 1 1 1V14a1 1 0 0 1-1 1h-5"/></svg>
<div class="abs" style="left:1084px;top:433px;width:401px;height:454.5px;border:1.5px solid #62397c;border-radius:1px"></div>
<div class="abs" style="left:1204.6px;top:444.5px;width:1.4px;height:441.5px;background:#3b2a4a"></div>
<div class="abs" style="left:1206px;top:457.3px;width:194.7px;height:14px;background:#31608a"></div>
<div class="abs" style="left:1206px;top:493.6px;width:142.9px;height:14px;background:#31608a"></div>
<div class="abs" style="left:1206px;top:529.9px;width:68.9px;height:14px;background:#31608a"></div>
<div class="abs" style="left:1206px;top:566.2px;width:46.4px;height:14px;background:#31608a"></div>
<div class="abs" style="left:1206px;top:602.5px;width:26.9px;height:14px;background:#31608a"></div>
<div class="abs" style="left:1206px;top:638.8px;width:26.9px;height:14px;background:#31608a"></div>
<div class="abs" style="left:1206px;top:675.1px;width:23.2px;height:14px;background:#31608a"></div>
<div class="abs" style="left:1206px;top:711.4px;width:13.3px;height:14px;background:#31608a"></div>
<div class="abs" style="left:1206px;top:747.7px;width:11.8px;height:14px;background:#31608a"></div>
<div class="abs" style="left:1206px;top:784px;width:11.8px;height:14px;background:#31608a"></div>
<div class="abs" style="left:1206px;top:820.3px;width:11.8px;height:14px;background:#31608a"></div>
<div class="abs" style="left:1206px;top:856.6px;width:11.8px;height:14px;background:#7ea3bf"></div>
<div class="abs" style="left:1470.8px;top:456.4px;width:8px;height:140.3px;border-radius:4px;background:#651f80"></div>
<div class="abs" style="left:301.4px;top:841.3px;width:46.9px;height:38.4px;background:#dcebf3"></div>
<div class="abs" style="left:348.1px;top:841.3px;width:46.5px;height:38.4px;background:#bcd6e3"></div>
<div class="abs" style="left:394.4px;top:841.3px;width:47.7px;height:38.4px;background:#98bad2"></div>
<div class="abs" style="left:441.9px;top:841.3px;width:46.2px;height:38.4px;background:#6c97b8"></div>
<div class="abs" style="left:487.9px;top:841.3px;width:47px;height:38.4px;background:#2f5f86"></div>
<svg class="abs" style="left:296px;top:893px" width="244" height="18" fill="none" stroke="#5a1e78" stroke-width="1.3" stroke-linecap="round" stroke-linejoin="round"><path d="M6 9H238.5M14 3.3L5.7 9L14 14.7M230.5 3.3L238.8 9L230.5 14.7"/></svg>
<span class="t" id="t0" style="left:199.6px;top:58px;font-size:38.5px;color:#f1b73f;-webkit-text-stroke:1px #f1b73f;letter-spacing:0.55px">Latino Data Hub</span>
<span class="t" id="t1" style="left:750.5px;top:72.9px;font-size:17px;color:#5bb7ad;letter-spacing:0.64px">Issue Areas</span>
<span class="t" id="t2" style="left:897.9px;top:72.9px;font-size:17px;color:#5bb7ad;letter-spacing:0.367px">Custom Graphs</span>
<span class="t" id="t3" style="left:1076.2px;top:72.9px;font-size:17px;color:#5bb7ad;letter-spacing:0.759px">About</span>
<span class="t" id="t4" style="left:1174.4px;top:72.9px;font-size:17px;color:#5bb7ad;letter-spacing:0.841px">Contact</span>
<span class="t" id="t5" style="left:1288.6px;top:72.9px;font-size:17px;color:#5bb7ad;letter-spacing:0.384px">Español</span>
<span class="t" id="t6" style="left:1510.6px;top:73.5px;font-size:17px;color:#5bb7ad;letter-spacing:0.237px">Create Profile</span>
<span class="t" id="t7" style="left:1663.2px;top:73.5px;font-size:17px;color:#5bb7ad;letter-spacing:0.569px">Log In</span>
<span class="t" id="t8" style="left:257.7px;top:155px;font-size:25.8px;color:#5a1e78;-webkit-text-stroke:1px #5a1e78;letter-spacing:1.115px">Total Population for Latinos, 2021</span>
<span class="t" id="t9" style="left:257px;top:234px;font-size:20.4px;color:#5a1e78;-webkit-text-stroke:0.8px #5a1e78;letter-spacing:0.692px">Indicator:</span>
<span class="t" id="t10" style="left:400.5px;top:237px;font-size:18.4px;color:#5a1e78;font-weight:400;-webkit-text-stroke:0.45px #5a1e78;letter-spacing:0.665px">Total Population</span>
<span class="t" id="t11" style="left:866.9px;top:227.7px;font-size:15.8px;color:#5a1e78;-webkit-text-stroke:0.7px #5a1e78;letter-spacing:1.801px">View</span>
<span class="t" id="t12" style="left:866.9px;top:246.6px;font-size:15.8px;color:#5a1e78;-webkit-text-stroke:0.7px #5a1e78;letter-spacing:1.864px">Chart</span>
<span class="t" id="t13" style="left:1015.7px;top:235.7px;font-size:17.4px;color:#5a1e78;-webkit-text-stroke:0.7px #5a1e78;letter-spacing:0.877px">Filters</span>
<span class="t" id="t14" style="left:1153.6px;top:227.7px;font-size:15.8px;color:#5a1e78;-webkit-text-stroke:0.7px #5a1e78;letter-spacing:1.438px">Clear My</span>
<span class="t" id="t15" style="left:1153.6px;top:246.6px;font-size:15.8px;color:#5a1e78;-webkit-text-stroke:0.7px #5a1e78;letter-spacing:1.117px">Changes</span>
<span class="t" id="t16" style="left:1123.3px;top:348.9px;font-size:20px;color:#5a1e78;-webkit-text-stroke:0.5px #5a1e78;letter-spacing:-0.268px">United States</span>
<span class="t" id="t17" style="left:1366.9px;top:330.1px;font-size:13.8px;color:#5a1e78;font-weight:400;-webkit-text-stroke:0.35px #5a1e78;letter-spacing:0.373px">Number</span>
<span class="t" id="t18" style="left:1339.1px;top:350.1px;font-size:19.6px;color:#5a1e78;-webkit-text-stroke:0.5px #5a1e78;letter-spacing:0.898px">60,814,000</span>
<span class="t" id="t19" style="left:1084.2px;top:410.4px;font-size:14.6px;color:#5a1e78;-webkit-text-stroke:0.3px #5a1e78;letter-spacing:-0.18px">State Rank</span>
<span class="t" id="t20" style="left:1131.5px;top:454.9px;font-size:14.8px;color:#5a1e78;font-weight:400;-webkit-text-stroke:0.45px #5a1e78;letter-spacing:0.213px">California</span>
<span class="t" id="t21" style="left:1408.7px;top:463px;font-size:13.8px;color:#5a1e78;font-weight:400;-webkit-text-stroke:0.45px #5a1e78;letter-spacing:-0.31px">15.595M</span>
<span class="t" id="t22" style="left:1158.7px;top:491.2px;font-size:14.8px;color:#5a1e78;font-weight:400;-webkit-text-stroke:0.45px #5a1e78;letter-spacing:-0.356px">Texas</span>
<span class="t" id="t23" style="left:1356.1px;top:499.3px;font-size:13.8px;color:#5a1e78;font-weight:400;-webkit-text-stroke:0.45px #5a1e78;letter-spacing:-0.188px">11.481M</span>
<span class="t" id="t24" style="left:1149.3px;top:527.5px;font-size:14.8px;color:#5a1e78;font-weight:400;-webkit-text-stroke:0.45px #5a1e78;letter-spacing:0.233px">Florida</span>
<span class="t" id="t25" style="left:1280.9px;top:535.6px;font-size:13.8px;color:#5a1e78;font-weight:400;-webkit-text-stroke:0.45px #5a1e78;letter-spacing:-0.178px">5.593M</span>
<span class="t" id="t26" style="left:1133.3px;top:563.8px;font-size:14.8px;color:#5a1e78;font-weight:400;-webkit-text-stroke:0.45px #5a1e78;letter-spacing:0.017px">New York</span>
<span class="t" id="t27" style="left:1261.9px;top:571.9px;font-size:13.8px;color:#5a1e78;font-weight:400;-webkit-text-stroke:0.45px #5a1e78;letter-spacing:-0.358px">3.871M</span>
<span class="t" id="t28" style="left:1145.4px;top:600.1px;font-size:14.8px;color:#5a1e78;font-weight:400;-webkit-text-stroke:0.45px #5a1e78;letter-spacing:0.06px">Arizona</span>
<span class="t" id="t29" style="left:1239.7px;top:608.2px;font-size:13.8px;color:#5a1e78;font-weight:400;-webkit-text-stroke:0.45px #5a1e78;letter-spacing:-0.198px">2.258M</span>
<span class="t" id="t30" style="left:1151.5px;top:636.4px;font-size:14.8px;color:#5a1e78;font-weight:400;-webkit-text-stroke:0.45px #5a1e78;letter-spacing:0.472px">Illinois</span>
<span class="t" id="t31" style="left:1239.7px;top:644.5px;font-size:13.8px;color:#5a1e78;font-weight:400;-webkit-text-stroke:0.45px #5a1e78;letter-spacing:-0.358px">2.251M</span>
<span class="t" id="t32" style="left:1119.1px;top:672.7px;font-size:14.8px;color:#5a1e78;font-weight:400;-webkit-text-stroke:0.45px #5a1e78;letter-spacing:-0.052px">New Jersey</span>
<span class="t" id="t33" style="left:1239.7px;top:680.8px;font-size:13.8px;color:#5a1e78;font-weight:400;-webkit-text-stroke:0.45px #5a1e78;letter-spacing:-0.358px">1.925M</span>
<span class="t" id="t34" style="left:1135.5px;top:709px;font-size:14.8px;color:#5a1e78;font-weight:400;-webkit-text-stroke:0.45px #5a1e78;letter-spacing:0.053px">Colorado</span>
<span class="t" id="t35" style="left:1232.5px;top:717.1px;font-size:13.8px;color:#5a1e78;font-weight:400;-webkit-text-stroke:0.45px #5a1e78;letter-spacing:-0.378px">1.255M</span>
<span class="t" id="t36" style="left:1142.4px;top:745.3px;font-size:14.8px;color:#5a1e78;font-weight:400;-webkit-text-stroke:0.45px #5a1e78;letter-spacing:0.146px">Gerogia</span>
<span class="t" id="t37" style="left:1232.5px;top:753.4px;font-size:13.8px;color:#5a1e78;font-weight:400;-webkit-text-stroke:0.45px #5a1e78;letter-spacing:-0.058px">1.048M</span>
<span class="t" id="t38" style="left:1116.1px;top:781.6px;font-size:14.8px;color:#5a1e78;font-weight:400;-webkit-text-stroke:0.45px #5a1e78;letter-spacing:-0.085px">New Mexico</span>
<span class="t" id="t39" style="left:1232.5px;top:789.7px;font-size:13.8px;color:#5a1e78;font-weight:400;-webkit-text-stroke:0.45px #5a1e78;letter-spacing:-0.058px">1.046M</span>
<span class="t" id="t40" style="left:1109.2px;top:817.9px;font-size:14.8px;color:#5a1e78;font-weight:400;-webkit-text-stroke:0.45px #5a1e78;letter-spacing:-0.117px">Pennsylvania</span>
<span class="t" id="t41" style="left:1232.5px;top:826px;font-size:13.8px;color:#5a1e78;font-weight:400;-webkit-text-stroke:0.45px #5a1e78;letter-spacing:-0.378px">1.021M</span>
<span class="t" id="t42" style="left:1099.2px;top:854.2px;font-size:14.8px;color:#5a1e78;font-weight:400;-webkit-text-stroke:0.45px #5a1e78;letter-spacing:0.102px">North Carolina</span>
<span class="t" id="t43" style="left:1232.5px;top:862.3px;font-size:13.8px;color:#5a1e78;font-weight:400;-webkit-text-stroke:0.45px #5a1e78;letter-spacing:-0.378px">1.017M</span>
<span class="t" id="t44" style="left:353.7px;top:812.4px;font-size:16.2px;color:#5a1e78;-webkit-text-stroke:0.2px #5a1e78;letter-spacing:0.031px">Total Population</span>
<span class="t" id="t45" style="left:242.6px;top:853.3px;font-size:13.8px;color:#5a1e78;-webkit-text-stroke:0.2px #5a1e78;letter-spacing:-0.178px">Lowest</span>
<span class="t" id="t46" style="left:546.6px;top:853.3px;font-size:13.8px;color:#5a1e78;-webkit-text-stroke:0.2px #5a1e78;letter-spacing:0.208px">Highest</span>
<span class="t" id="t47" style="left:257.9px;top:893.9px;font-size:15.2px;color:#5a1e78;-webkit-text-stroke:0.3px #5a1e78;letter-spacing:1.496px">14K</span>
<span class="t" id="t48" style="left:549px;top:893.9px;font-size:15.2px;color:#5a1e78;-webkit-text-stroke:0.3px #5a1e78;letter-spacing:0.493px">15.595M</span>
<span class="t" id="t49" style="left:239.5px;top:943.2px;font-size:21.6px;color:#5a1e78;-webkit-text-stroke:0.8px #5a1e78;letter-spacing:1.199px">Source: Estimates by the UCLA Latino Policy and Politics Institute from the U.S. Census Bureau data.</span>
<span class="t" id="t50" style="left:239.5px;top:975.6px;font-size:21.6px;color:#5a1e78;-webkit-text-stroke:0.8px #5a1e78;letter-spacing:1.233px">Note: Cases without sufficient sample size will be reported as ‘N/A’, Estimates are rounded to the nearest thousands.</span>
<div class="abs edge" style="top:0"></div>
<div class="abs edge" style="top:1024.5px"></div>
</body></html>
